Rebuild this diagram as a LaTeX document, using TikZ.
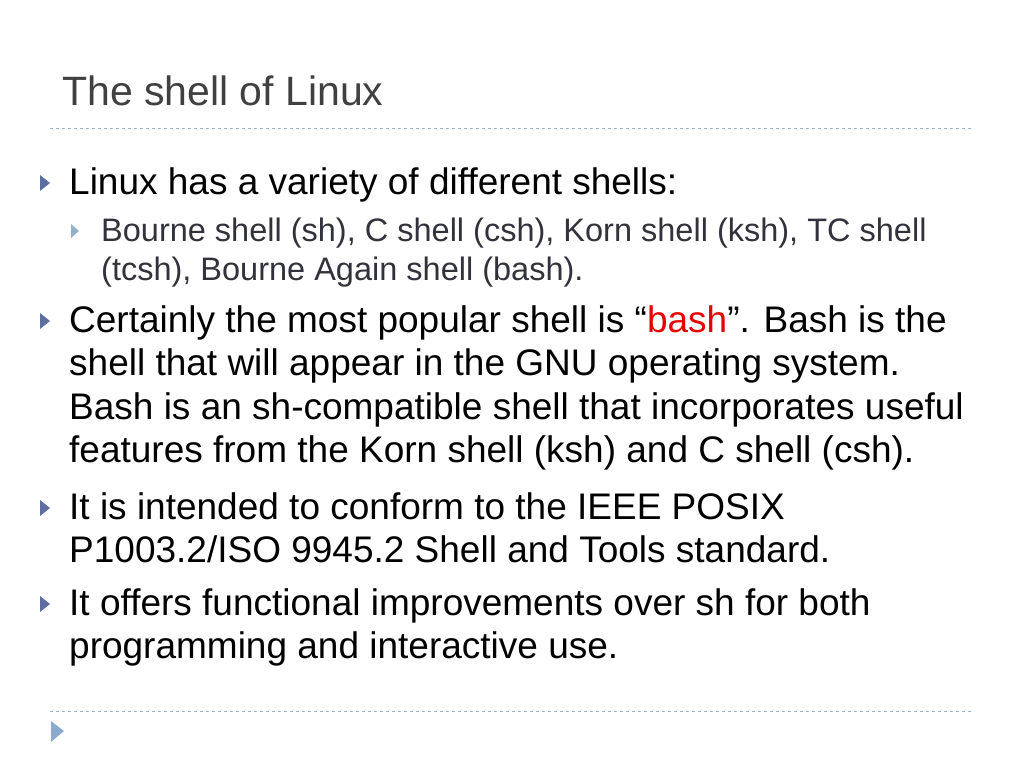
\documentclass[tikz,border=0pt]{standalone}
\usepackage{fontspec}
\setmainfont{Liberation Sans}
\begin{document}
\begin{tikzpicture}[x=1pt,y=-1pt,
  main/.style={anchor=base west,inner sep=0pt,font=\fontsize{37}{42}\selectfont,text=black},
  sub/.style={anchor=base west,inner sep=0pt,font=\fontsize{32.5}{36}\selectfont,text={rgb,255:red,50;green,50;blue,60}},
  dashline/.style={draw={rgb,255:red,160;green,180;blue,200},dash pattern=on 3pt off 3pt,line width=1pt}]
\useasboundingbox (0,0) rectangle (1024,768);
\definecolor{bulA}{RGB}{95,110,160}
\definecolor{bulB}{RGB}{150,175,200}
\definecolor{bulC}{RGB}{140,170,205}
\definecolor{bashred}{RGB}{230,0,0}
\node[anchor=base west,inner sep=0pt,font=\fontsize{41}{46}\selectfont,text={rgb,255:red,64;green,64;blue,64}] (title) at (62,105) {The shell of Linux};
\draw[dashline] (50,128) -- (972,128);
\draw[dashline] (50,711) -- (972,711);
\fill[bulC] (51,721) -- (64,731) -- (51,742) -- cycle;
% bullets
\foreach \y in {183,321,508,604} \fill[bulA] (40,\y-8) -- (50,\y) -- (40,\y+8) -- cycle;
\fill[bulB] (71,231-7) -- (79,231) -- (71,231+7) -- cycle;
\node[main] (l1) at (69,194) {Linux has a variety of different shells:};
\node[sub] (s1) at (101,241) {Bourne shell (sh), C shell (csh), Korn shell (ksh), TC shell};
\node[sub] (s2) at (101,280) {(tcsh), Bourne Again shell (bash).};
\node[main] (b1) at (69,332) {Certainly the most popular shell is ``\textcolor{bashred}{bash}''. Bash is the};
\node[main] (b2) at (69,375) {shell that will appear in the GNU operating system.};
\node[main] (b3) at (69,419) {Bash is an sh-compatible shell that incorporates useful};
\node[main] (b4) at (69,462) {features from the Korn shell (ksh) and C shell (csh).};
\node[main] (c1) at (69,519) {It is intended to conform to the IEEE POSIX};
\node[main] (c2) at (69,562) {P1003.2/ISO 9945.2 Shell and Tools standard.};
\node[main] (d1) at (69,615) {It offers functional improvements over sh for both};
\node[main] (d2) at (69,658) {programming and interactive use.};
\end{tikzpicture}
\end{document}
